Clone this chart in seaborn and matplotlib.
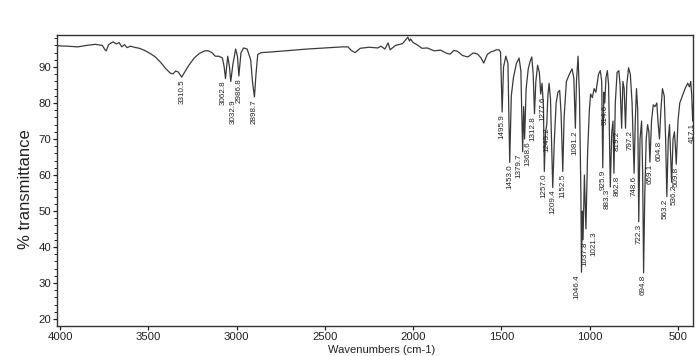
import pandas as pd
import numpy as np
import matplotlib
matplotlib.use("Agg")
import matplotlib.pyplot as plt
import seaborn as sns
from matplotlib.ticker import MultipleLocator

# spectrum trace (wavenumber cm-1, % transmittance)
wavenumber = [
    4015, 3960, 3900, 3850, 3800, 3760, 3745, 3738, 3725, 3700, 3680, 3665, 3650, 3635, 3620,
    3600, 3580, 3550, 3520, 3490, 3460, 3430, 3400, 3375, 3360, 3345, 3330, 3310.5, 3295, 3270,
    3240, 3210, 3180, 3160, 3140, 3120, 3100, 3080, 3070, 3062.8, 3050, 3040, 3032.9, 3020, 3005,
    2995, 2986.8, 2975, 2960, 2940, 2920, 2910, 2898.7, 2890, 2880, 2860, 2800, 2700, 2600, 2500,
    2400, 2369, 2350, 2329, 2300, 2250, 2200, 2182, 2160, 2142, 2130, 2100, 2060, 2030, 2020,
    2015, 2000, 1975, 1950, 1920, 1880, 1845, 1810, 1790, 1770, 1750, 1720, 1690, 1660, 1635,
    1615, 1600, 1580, 1560, 1540, 1530, 1515, 1505, 1495.9, 1488, 1475, 1463, 1453.0, 1444, 1432,
    1415, 1400, 1390, 1379.7, 1374, 1368.6, 1360, 1348, 1338, 1328, 1320, 1312.8, 1305, 1295, 1285,
    1277.6, 1270, 1262, 1257.0, 1250, 1243.2, 1237, 1230, 1222, 1209.4, 1200, 1190, 1180, 1170, 1162,
    1152.5, 1145, 1132, 1115, 1100, 1090, 1081.2, 1075, 1066, 1058, 1050, 1046.4, 1042, 1037.8, 1030,
    1021.3, 1012, 1002, 995, 985, 975, 965, 950, 940, 932, 925.9, 920, 914.6, 908, 900,
    893, 883.3, 875, 868, 862.8, 855, 845, 835, 828, 819.2, 812, 805, 797.2, 790, 780,
    770, 760, 748.6, 742, 735, 728, 722.3, 715, 706, 700, 694.8, 688, 680, 672, 665,
    659.1, 650, 640, 630, 620, 612, 604.8, 597, 588, 578, 570, 563.2, 555, 548, 542,
    536.2, 528, 520, 515, 509.8, 500, 490, 475, 460, 445, 435, 428, 422, 417.1, 412,
]
transmittance = [
    95.9, 95.8, 95.6, 96.0, 96.3, 96.0, 94.8, 94.5, 96.2, 97.0, 96.4, 96.8, 95.6, 96.2, 95.4,
    95.8, 95.5, 95.2, 94.6, 93.8, 92.8, 91.3, 89.5, 88.3, 88.1, 88.9, 88.6, 87.2, 88.5, 90.5,
    92.5, 93.8, 94.5, 94.5, 94.0, 93.0, 93.0, 92.5, 90.0, 86.8, 93.0, 90.0, 86.0, 91.0, 95.0,
    93.0, 87.5, 94.0, 95.3, 95.0, 92.0, 86.0, 81.7, 88.0, 93.5, 94.0, 94.2, 94.6, 95.0, 95.3,
    95.6, 95.6, 94.6, 94.0, 95.2, 95.5, 95.3, 95.8, 95.0, 96.7, 94.8, 96.0, 96.5, 98.3, 97.2,
    97.8, 96.8, 96.1, 95.2, 95.3, 94.5, 94.7, 93.8, 93.6, 94.6, 94.4, 93.2, 92.8, 93.9, 93.6,
    92.5, 91.1, 93.5, 94.2, 94.5, 94.8, 94.8, 94.2, 77.5, 90.0, 93.0, 91.0, 63.5, 82.0, 87.0,
    91.0, 92.5, 89.0, 66.5, 79.0, 70.0, 84.0, 89.5, 91.5, 92.8, 88.0, 77.0, 86.0, 90.5, 88.5,
    82.5, 85.5, 79.0, 61.0, 72.0, 74.0, 82.0, 85.5, 81.0, 56.5, 70.0, 80.0, 83.0, 83.5, 77.0,
    61.0, 76.0, 86.0, 88.0, 89.5, 87.0, 73.0, 86.0, 93.0, 82.0, 55.0, 33.0, 50.0, 42.0, 60.0,
    45.0, 66.0, 78.0, 82.5, 81.5, 84.0, 83.0, 88.0, 89.0, 86.0, 62.0, 83.0, 80.0, 87.0, 89.0,
    85.0, 56.7, 72.0, 75.0, 60.5, 80.0, 88.5, 89.0, 85.0, 73.0, 86.0, 84.0, 73.0, 85.0, 89.8,
    88.0, 80.0, 60.5, 75.0, 84.0, 78.0, 47.0, 70.0, 75.0, 60.0, 32.8, 55.0, 70.0, 74.0, 72.0,
    63.6, 75.0, 79.5, 79.0, 80.0, 74.0, 70.0, 78.0, 84.0, 82.0, 70.0, 54.0, 70.0, 74.0, 66.0,
    58.0, 70.0, 72.0, 68.0, 63.0, 75.0, 80.0, 82.0, 84.0, 85.5, 84.5, 86.0, 82.0, 75.0, 80.0,
]

# labelled peaks
peak_wn = [3310.5, 3062.8, 3032.9, 2986.8, 2898.7, 1495.9, 1453.0, 1379.7, 1368.6, 1312.8,
           1277.6, 1257.0, 1243.2, 1209.4, 1152.5, 1081.2, 1046.4, 1037.8, 1021.3, 925.9,
           914.6, 883.3, 862.8, 819.2, 797.2, 748.6, 722.3, 694.8, 659.1, 604.8,
           563.2, 536.2, 509.8, 417.1]

# crowded labels: extra drop (in % units) and sideways nudge (in points)
label_drop = {3032.9: 4.5}
label_dx = {3062.8: -1.5, 3032.9: 1.5, 1379.7: -2.5, 1368.6: 2.5, 1312.8: -1, 1277.6: 1.5,
            1046.4: -3.5, 1037.8: 1, 1021.3: 5.5, 883.3: -2, 862.8: 2,
            819.2: -3, 797.2: 3, 563.2: -1.5, 536.2: 1.5}

df = pd.DataFrame({"wn": wavenumber, "T": transmittance})
peak_t = dict(zip(wavenumber, transmittance))

sns.set_theme(style="ticks")
plt.rcParams["font.family"] = ["Liberation Sans", "DejaVu Sans"]

fig = plt.figure(figsize=(7, 3.56), dpi=100)
ax = fig.add_axes([0.0814, 0.0843, 0.9086, 0.8174])

sns.lineplot(data=df, x="wn", y="T", sort=False, estimator=None,
             color="#3a3a3a", linewidth=0.9, ax=ax)

for wn in peak_wn:
    ax.annotate(f"{wn:.1f}", xy=(wn, peak_t[wn] - 0.6 - label_drop.get(wn, 0)),
                xytext=(label_dx.get(wn, 0), 0), textcoords="offset points",
                rotation=90, ha="center", va="top", fontsize=5.8, color="#222222",
                annotation_clip=False, clip_on=True)

ax.set_xlim(4017, 415)
ax.set_ylim(18.06, 98.9)
ax.xaxis.set_major_locator(MultipleLocator(500))
ax.yaxis.set_major_locator(MultipleLocator(10))
ax.yaxis.set_minor_locator(MultipleLocator(2))
ax.tick_params(axis="both", which="major", labelsize=8.2, length=3, width=0.9,
               colors="#222222", pad=1)
ax.tick_params(axis="y", which="minor", length=2.5, width=0.7, color="#222222")

for s in ax.spines.values():
    s.set_color("#333333")
    s.set_linewidth(1.0)

ax.set_xlabel("Wavenumbers (cm-1)", fontsize=8, color="#222222")
ax.xaxis.set_label_coords(0.51, -0.066)
ax.xaxis.label.set_va("top")
ax.set_ylabel("% transmittance", fontsize=12, color="#222222")
ax.yaxis.set_label_coords(-0.038, 0.47)

fig.savefig("out.png", dpi=100)
